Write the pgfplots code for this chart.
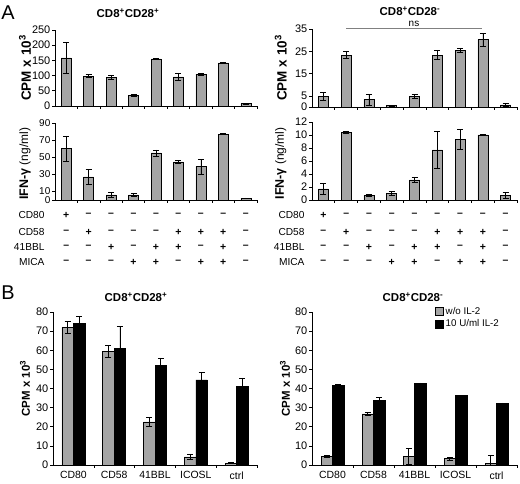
\documentclass[border=0pt]{standalone}
\usepackage{pgfplots}
\pgfplotsset{compat=1.18}
\usepackage{fontspec}
\setmainfont{Liberation Sans}
\definecolor{barg}{RGB}{165,165,165}
\pgfplotsset{
  base/.style={scale only axis, axis x line*=bottom, axis y line*=left,
    tick align=outside, major tick length=3bp, minor tick length=3bp, clip=false,
    tick label style={font=\fontsize{11}{12}\selectfont},
    /pgf/number format/assume math mode=true,
    axis line style={line width=0.6bp, black},
    tick style={line width=0.6bp, black},
    ymin=0,
    yticklabel style={inner xsep=1.5bp, inner ysep=0bp},
    error bars/error bar style={line width=0.6bp, black},
    error bars/error mark options={rotate=90, mark size=3bp, line width=0.6bp, black},
  },
  toppan/.style={base, xmin=-0.5, xmax=8.5, ybar, bar width=10bp,
    xtick={0.5,1.5,...,8.5}, xticklabels={},
    ylabel style={font=\bfseries\fontsize{13.5}{14}\selectfont, anchor=center}},
  botpan/.style={base, width=204bp, height=153bp, xmin=-0.5, xmax=4.5, ymax=80,
    ybar=0pt, bar width=11.5bp, ytick={0,10,...,80},
    xtick={0,...,4}, xticklabels={CD80,CD58,41BBL,ICOSL,ctrl},
    every major x tick/.append style={draw=none},
    minor xtick={0.5,1.5,2.5,3.5,4.5},
    x tick label style={font=\fontsize{10.5}{11}\selectfont},
    ylabel style={font=\bfseries\fontsize{11.5}{12}\selectfont, anchor=center},
    ylabel={CPM x 10\textsuperscript{3}}},
  gbar/.style={fill=barg, draw=black, line width=0.5bp,
    error bars/.cd, y dir=both, y explicit},
  kbar/.style={fill=black, draw=black, line width=0.5bp,
    error bars/.cd, y dir=both, y explicit},
}
\newcommand\symrow[4]{\foreach \s [count=\i from 0] in {#4} {\node[font=\bfseries\fontsize{10.5}{11}\selectfont] at (#1+#2*\i, #3) {\s};}}
\begin{document}
\begin{tikzpicture}[x=1bp,y=1bp]
\path[use as bounding box] (0,0) rectangle (520,484);

% ---- A top-left CPM
\begin{axis}[toppan, at={(55bp,378bp)}, anchor=south west, width=202bp, height=76bp,
  ymax=250, ytick={0,50,...,250},
  ylabel={CPM x 10\textsuperscript{3}}, ylabel style={at={(axis description cs:-0.148,0.5)}}]
\addplot[gbar] table[x=x,y=y,y error=e] {
x y e
0 158 52
1 98 5
2 94 7
3 35 2
4 155 1
5 96 13
6 105 2.5
7 142 3
8 8 1
};
\end{axis}

% ---- A bottom-left IFN
\begin{axis}[toppan, at={(55bp,284bp)}, anchor=south west, width=202bp, height=77bp,
  ymax=90, ytick={0,10,30,50,70,90},
  y tick label style={font=\fontsize{10}{10}\selectfont},
  ylabel={IFN-γ {\mdseries\fontsize{12}{13}\selectfont(ng/ml)}},
  ylabel style={font=\bfseries\fontsize{12.5}{13}\selectfont, at={(axis description cs:-0.148,0.47)}}]
\addplot[gbar] table[x=x,y=y,y error=e] {
x y e
0 60 15
1 27 8.5
2 6 3
3 6 2
4 55 3.5
5 44.5 2
6 39 8.5
7 77 0.5
8 2 0.5
};
\end{axis}

% ---- A top-right CPM
\begin{axis}[toppan, at={(312bp,377bp)}, anchor=south west, width=205bp, height=78bp,
  ymax=35, ytick={0,5,15,25,35},
  ylabel={CPM x 10\textsuperscript{3}}, ylabel style={at={(axis description cs:-0.152,0.5)}}]
\addplot[gbar] table[x=x,y=y,y error=e] {
x y e
0 4.8 1.8
1 23.3 1.5
2 3.4 2.5
3 0.6 0.2
4 4.8 0.8
5 23.3 2.0
6 25.5 1.0
7 30.2 2.8
8 1.0 0.6
};
\end{axis}

% ---- A bottom-right IFN
\begin{axis}[toppan, at={(312bp,284bp)}, anchor=south west, width=205bp, height=78bp,
  ymax=12, ytick={0,2,...,12},
  ylabel={IFN-γ {\mdseries\fontsize{12}{13}\selectfont(ng/ml)}},
  ylabel style={font=\bfseries\fontsize{12.5}{13}\selectfont, at={(axis description cs:-0.152,0.47)}}]
\addplot[gbar] table[x=x,y=y,y error=e] {
x y e
0 1.7 0.9
1 10.4 0.15
2 0.7 0.1
3 1.0 0.3
4 3.1 0.45
5 7.7 2.8
6 9.3 1.5
7 10.0 0.05
8 0.7 0.45
};
\end{axis}

% ---- B left
\begin{axis}[botpan, at={(53bp,19bp)}, anchor=south west,
  ylabel style={at={(axis description cs:-0.137,0.5)}}]
\addplot[gbar] table[x=x,y=y,y error plus=ep,y error minus=em] {
x y ep em
0 72 3 3
1 59.5 3 3
2 22.5 2.5 2.5
3 4.3 1.5 1.5
4 1.0 0.3 0.3
};
\addplot[kbar] table[x=x,y=y,y error plus=ep,y error minus=em] {
x y ep em
0 74 3.5 3.5
1 60.8 11.5 11.5
2 52 4 4
3 44.5 4 4
4 41 4.5 4.5
};
\end{axis}

% ---- B right
\begin{axis}[botpan, at={(312bp,19bp)}, anchor=south west, width=205bp,
  ylabel style={at={(axis description cs:-0.132,0.5)}},
  legend image code/.code={\draw[#1, draw=black, line width=0.5bp] (0bp,-4bp) rectangle (8bp,4bp);},
  legend style={at={(axis description cs:0.6,1.045)}, anchor=north west, draw=none, fill=none,
    font=\fontsize{9.8}{10}\selectfont, row sep=0bp, inner sep=0bp},
  legend cell align=left]
\addplot[gbar] table[x=x,y=y,y error plus=ep,y error minus=em] {
x y ep em
0 4.5 0.5 0.5
1 26.7 0.8 0.8
2 4.5 4 4
3 3.3 0.8 0.8
4 0.8 4.2 0.8
};
\addlegendentry{w/o IL-2}
\addplot[kbar] table[x=x,y=y,y error plus=ep,y error minus=em] {
x y ep em
0 41.8 0.3 0.3
1 33.7 1.8 1.8
2 42.5 0.4 0.4
3 36.3 0.3 0.3
4 32.2 0.3 0.3
};
\addlegendentry{10 U/ml IL-2}
\end{axis}

% ---- annotations
\node[font=\fontsize{20}{21}\selectfont] at (8,471) {A};
\node[font=\fontsize{20}{21}\selectfont] at (8,191) {B};
\node[font=\bfseries\fontsize{11.5}{12}\selectfont, anchor=base, inner sep=0bp, text depth=0pt] at (128,466) {CD8\textsuperscript{+}CD28\textsuperscript{+}};
\node[font=\bfseries\fontsize{11.5}{12}\selectfont, anchor=base, inner sep=0bp, text depth=0pt] at (410,468) {CD8\textsuperscript{+}CD28\textsuperscript{-}};
\node[font=\bfseries\fontsize{11.5}{12}\selectfont] at (136,187) {CD8\textsuperscript{+}CD28\textsuperscript{+}};
\node[font=\bfseries\fontsize{11.5}{12}\selectfont] at (413,187) {CD8\textsuperscript{+}CD28\textsuperscript{-}};
\draw[gray, line width=0.8bp] (346,456) -- (482,456);
\node[font=\fontsize{10}{10}\selectfont, anchor=base, inner sep=0bp, text height=1ex, text depth=0pt] at (414,457.5) {ns};

% table labels
\foreach \lab/\yy in {CD80/269,CD58/252,41BBL/237,MICA/222}{
  \node[anchor=east, font=\fontsize{10.2}{11}\selectfont] at (48,\yy) {\lab};
  \node[anchor=east, font=\fontsize{10.2}{11}\selectfont] at (308,\yy) {\lab};
}
\symrow{66.2}{22.44}{269}{+,–,–,–,–,–,–,–,–}
\symrow{66.2}{22.44}{252}{–,+,–,–,–,+,+,+,–}
\symrow{66.2}{22.44}{237}{–,–,+,–,+,+,–,+,–}
\symrow{66.2}{22.44}{222}{–,–,–,+,+,–,+,+,–}
\symrow{323.4}{22.78}{269}{+,–,–,–,–,–,–,–,–}
\symrow{323.4}{22.78}{252}{–,+,–,–,–,+,+,+,–}
\symrow{323.4}{22.78}{237}{–,–,+,–,+,+,–,+,–}
\symrow{323.4}{22.78}{222}{–,–,–,+,+,–,+,+,–}
\end{tikzpicture}
\end{document}
